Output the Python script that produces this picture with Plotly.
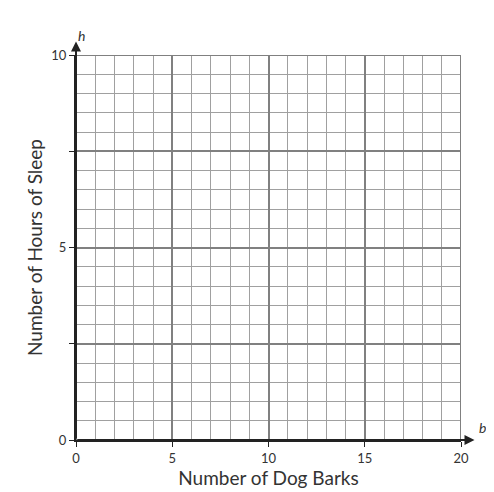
import plotly.graph_objects as go

x_ticks = [0, 5, 10, 15, 20]
x_labels = ["0", "5", "10", "15", "20"]
y_ticks = [0, 2.5, 5, 7.5, 10]
y_labels = ["0", "", "5", "", "10"]
x_title = "Number of Dog Barks"
y_title = "Number of Hours of Sleep"

fig = go.Figure()
fig.add_trace(go.Scatter(x=[0, 20], y=[0, 10], mode="markers", marker=dict(opacity=0), hoverinfo="skip", showlegend=False))

font = dict(family="Lato", color="#333")
fig.update_xaxes(range=[0, 20], tickvals=x_ticks, ticktext=x_labels, showgrid=True, gridcolor="#808080", gridwidth=2,
                 minor=dict(dtick=1, showgrid=True, gridcolor="#a0a0a0", gridwidth=1), zeroline=False, automargin=False,
                 showline=True, linecolor="#222", linewidth=2, ticks="outside", ticklen=5, tickcolor="#222",
                 title=dict(text=x_title, font=dict(size=19, **font), standoff=4), tickfont=dict(size=13, **font))
fig.update_yaxes(range=[0, 10], tickvals=y_ticks, ticktext=y_labels, showgrid=True, gridcolor="#808080", gridwidth=2,
                 minor=dict(dtick=0.5, showgrid=True, gridcolor="#a0a0a0", gridwidth=1), zeroline=False, automargin=False,
                 showline=True, linecolor="#222", linewidth=2, ticks="outside", ticklen=5, tickcolor="#222",
                 title=dict(text=y_title, font=dict(size=19, **font), standoff=4), tickfont=dict(size=13, **font))
fig.add_shape(type="rect", x0=0, x1=20, y0=0, y1=10, xref="x", yref="y", line=dict(color="#808080", width=2))
fig.add_annotation(x=20.7, y=0, ax=0, ay=0, axref="x", ayref="y", xref="x", yref="y", showarrow=True,
                   arrowhead=2, arrowsize=1, arrowwidth=2, arrowcolor="#222", text="")
fig.add_annotation(x=0, y=10.35, ax=0, ay=0, axref="x", ayref="y", xref="x", yref="y", showarrow=True,
                   arrowhead=2, arrowsize=1, arrowwidth=2, arrowcolor="#222", text="")
fig.add_annotation(x=480, y=492 - 430, xref="paper", yref="paper", text="<i>b</i>", showarrow=False,
                   font=dict(size=14, **font))
fig.add_annotation(x=68, y=492 - 17, xref="paper", yref="paper", text="<i>h</i>", showarrow=False,
                   font=dict(size=14, **font))
fig.layout.annotations[2].update(x=(480 - 68) / 385, y=(432 - 430) / 385)
fig.layout.annotations[3].update(x=0, y=(432 - 17) / 385)

fig.update_layout(width=494, height=492, margin=dict(l=68, r=41, t=47, b=60),
                  plot_bgcolor="white", paper_bgcolor="white", showlegend=False)
fig.write_html("out.html")
